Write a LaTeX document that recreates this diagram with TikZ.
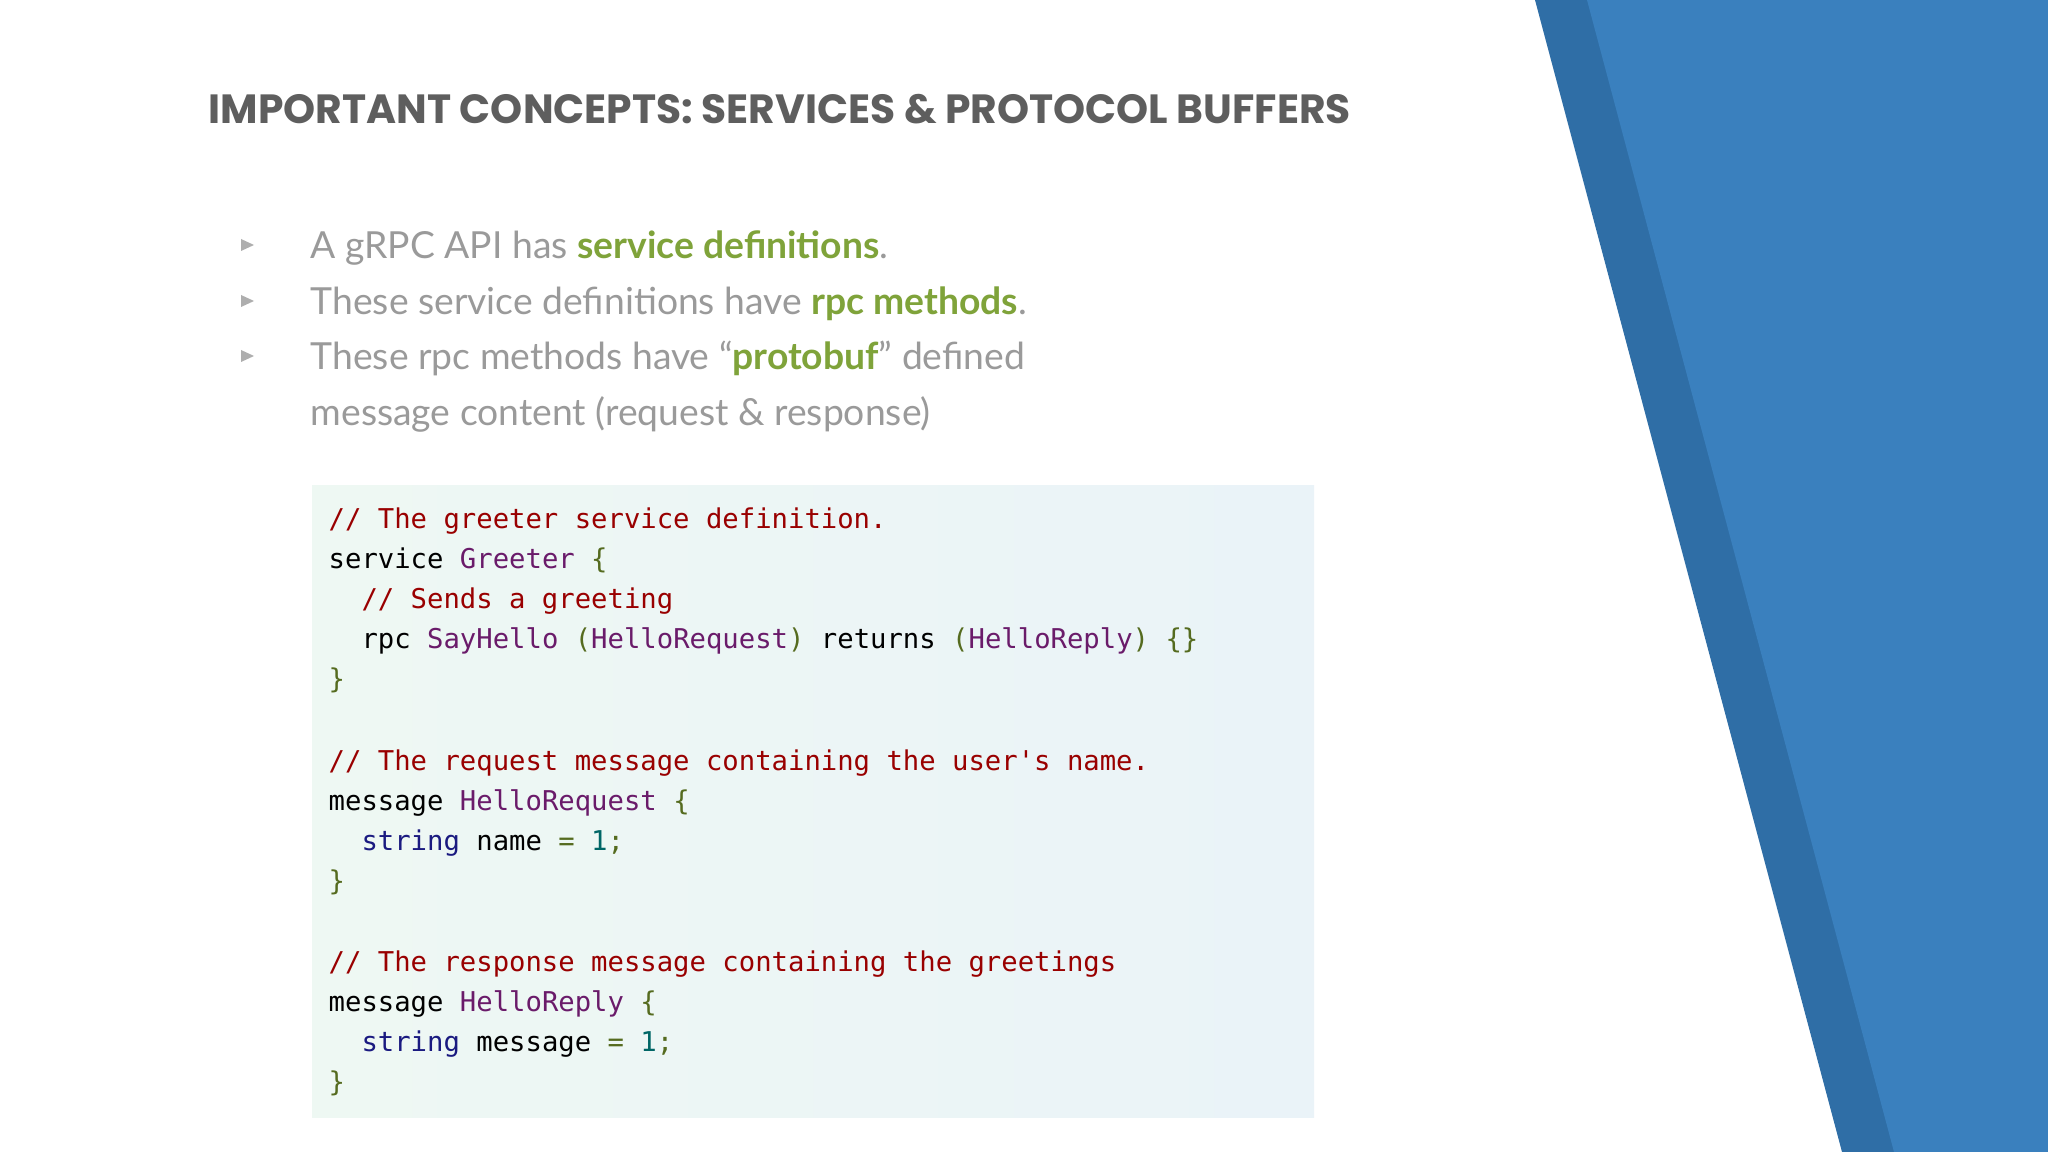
\documentclass[tikz,border=0pt]{standalone}
\usepackage{fontspec}
\setmainfont{Lato}
\newfontfamily\titlefont{Poppins}
\newfontfamily\codefont{DejaVu Sans Mono}
\definecolor{bluemain}{HTML}{3A80BE}
\definecolor{bluedark}{HTML}{2F6EA6}
\definecolor{titlegray}{HTML}{5E5E5E}
\definecolor{txtgray}{HTML}{9A9A9A}
\definecolor{grn}{HTML}{7FA33A}
\definecolor{cmt}{HTML}{990000}
\definecolor{typ}{HTML}{6A1B6A}
\definecolor{brc}{HTML}{556B1F}
\definecolor{kw}{HTML}{1A1A80}
\definecolor{num}{HTML}{006666}
\definecolor{boxA}{HTML}{EEF8F3}
\definecolor{boxB}{HTML}{EAF3F8}
\tikzset{
  bul/.style={anchor=base west,inner sep=0,font=\fontsize{10.6}{12}\selectfont,text=txtgray},
  code/.style={anchor=base west,inner sep=0,font=\codefont\fontsize{7.75}{9}\selectfont},
  tri/.style={fill=txtgray!80,draw=none}
}
\newcommand{\G}[1]{\textcolor{grn}{\bfseries #1}}
\begin{document}
\begin{tikzpicture}[x=0.01cm,y=-0.01cm]
\useasboundingbox (0,0) rectangle (2048,1152);
\fill[white] (0,0) rectangle (2048,1152);
\fill[bluedark] (1535,0) -- (2048,0) -- (2048,1152) -- (1842,1152) -- cycle;
\fill[bluemain] (1587,0) -- (2048,0) -- (2048,1152) -- (1894,1152) -- cycle;
\node[anchor=base west,inner sep=0,text=titlegray,font=\titlefont\bfseries\fontsize{11.6}{13}\selectfont] (title) at (208,124) {IMPORTANT CONCEPTS: SERVICES \& PROTOCOL BUFFERS};
\foreach \y/\n in {248/t1,304/t2,359/t3}{
  \fill[tri] (241,\y-9) -- (254,\y-3) -- (241,\y+3) -- cycle;
}
\node[bul] (b1) at (310,259) {A gRPC API has \G{service definitions}.};
\node[bul] (b2) at (310,315) {These service definitions have \G{rpc methods}.};
\node[bul] (b3) at (310,370) {These rpc methods have “\G{protobuf}” defined};
\node[bul] (b4) at (310,426) {message content (request \& response)};
\shade[left color=boxA,right color=boxB] (312,486) rectangle (1314,1117);
\node[code] (c1) at (328,529) {\textcolor{cmt}{// The greeter service definition.}};
\node[code] (c2) at (328,569) {service \textcolor{typ}{Greeter} \textcolor{brc}{\{}};
\node[code] (c3) at (328,609) {\textcolor{cmt}{\ \ // Sends a greeting}};
\node[code] (c4) at (328,649) {\ \ rpc \textcolor{typ}{SayHello} \textcolor{brc}{(}\textcolor{typ}{HelloRequest}\textcolor{brc}{)} returns \textcolor{brc}{(}\textcolor{typ}{HelloReply}\textcolor{brc}{) \{\}}};
\node[code] (c5) at (328,689) {\textcolor{brc}{\}}};
\node[code] (c6) at (328,770) {\textcolor{cmt}{// The request message containing the user's name.}};
\node[code] (c7) at (328,810) {message \textcolor{typ}{HelloRequest} \textcolor{brc}{\{}};
\node[code] (c8) at (328,850) {\ \ \textcolor{kw}{string} name \textcolor{brc}{=} \textcolor{num}{1}\textcolor{brc}{;}};
\node[code] (c9) at (328,890) {\textcolor{brc}{\}}};
\node[code] (c10) at (328,971) {\textcolor{cmt}{// The response message containing the greetings}};
\node[code] (c11) at (328,1011) {message \textcolor{typ}{HelloReply} \textcolor{brc}{\{}};
\node[code] (c12) at (328,1051) {\ \ \textcolor{kw}{string} message \textcolor{brc}{=} \textcolor{num}{1}\textcolor{brc}{;}};
\node[code] (c13) at (328,1091) {\textcolor{brc}{\}}};
\end{tikzpicture}
\end{document}
